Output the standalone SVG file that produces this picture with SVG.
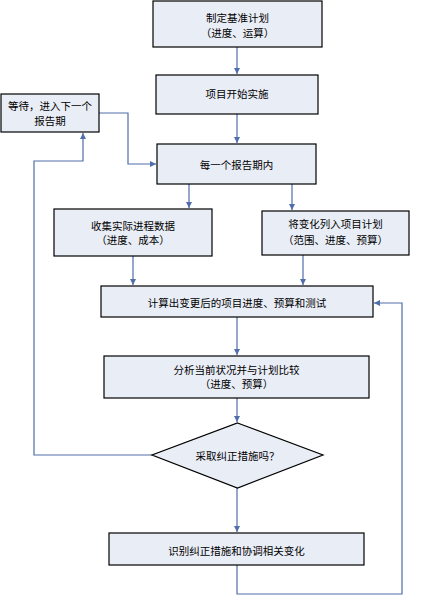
<svg xmlns="http://www.w3.org/2000/svg" width="425" height="595" viewBox="0 0 425 595">
<style>
.box{fill:#E9EDF6;stroke:#000;stroke-width:1.2}
.t{font-family:"Noto Sans CJK SC","Noto Sans CJK JP",sans-serif;font-size:10.5px;fill:#000;text-anchor:middle;dominant-baseline:central}
.c{fill:none;stroke:#4F6EAA;stroke-width:1.2}
</style>
<defs>
<marker id="ah" viewBox="0 0 10 10" refX="10" refY="5" markerWidth="6" markerHeight="6" markerUnits="userSpaceOnUse" orient="auto">
<path d="M0,0 L10,5 L0,10 z" fill="#4F6EAA"/>
</marker>
</defs>
<rect width="425" height="595" fill="#fff"/>
<g id="connectors">
<path class="c" d="M237,47 V74" marker-end="url(#ah)"/>
<path class="c" d="M237,114 V143" marker-end="url(#ah)"/>
<path class="c" d="M99,113 H128 V164 H156" marker-end="url(#ah)"/>
<path class="c" d="M189,184 V208" marker-end="url(#ah)"/>
<path class="c" d="M292,184 V210" marker-end="url(#ah)"/>
<path class="c" d="M133,256 V285" marker-end="url(#ah)"/>
<path class="c" d="M303,255 V285" marker-end="url(#ah)"/>
<path class="c" d="M237,317 V355" marker-end="url(#ah)"/>
<path class="c" d="M237,398 V422" marker-end="url(#ah)"/>
<path class="c" d="M152,455 H34 V161 H83 V133" marker-end="url(#ah)"/>
<path class="c" d="M237,488 V532" marker-end="url(#ah)"/>
<path class="c" d="M237,565 V594 H402 V303 H374" marker-end="url(#ah)"/>
</g>
<g id="n1"><rect class="box" x="153" y="1" width="169" height="46"/><text class="t" x="237.5" y="17">制定基准计划</text><text class="t" x="237.5" y="32">（进度、运算）</text></g>
<g id="n2"><rect class="box" x="156" y="75" width="162" height="39"/><text class="t" x="237" y="93">项目开始实施</text></g>
<g id="n_wait"><rect class="box" x="1" y="94" width="98" height="38"/><text class="t" x="50" y="105">等待，进入下一个</text><text class="t" x="50" y="120">报告期</text></g>
<g id="n3"><rect class="box" x="157" y="144" width="159" height="40"/><text class="t" x="236.5" y="164">每一个报告期内</text></g>
<g id="n4"><rect class="box" x="54" y="209" width="158" height="47"/><text class="t" x="133" y="225">收集实际进程数据</text><text class="t" x="133" y="239">（进度、成本）</text></g>
<g id="n5"><rect class="box" x="262" y="211" width="147" height="44"/><text class="t" x="335.5" y="223">将变化列入项目计划</text><text class="t" x="335.5" y="239">（范围、进度、预算）</text></g>
<g id="n6"><rect class="box" x="101" y="286" width="272" height="31"/><text class="t" x="237" y="302">计算出变更后的项目进度、预算和测试</text></g>
<g id="n7"><rect class="box" x="104" y="356" width="265" height="42"/><text class="t" x="236.5" y="369">分析当前状况并与计划比较</text><text class="t" x="236.5" y="383">（进度、预算）</text></g>
<g id="n_dec"><polygon class="box" points="237.5,423 323,455 237.5,488 152,455"/><text class="t" x="237.5" y="455">采取纠正措施吗？</text></g>
<g id="n8"><rect class="box" x="109" y="533" width="255" height="32"/><text class="t" x="236.5" y="550">识别纠正措施和协调相关变化</text></g>
</svg>
